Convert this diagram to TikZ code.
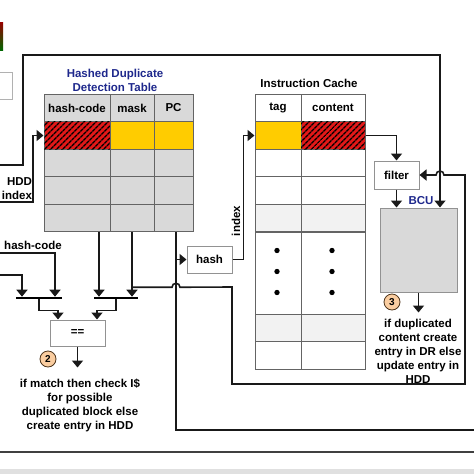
\documentclass[tikz,border=0pt]{standalone}
\usepackage{fontspec}
\setmainfont{Liberation Sans}
\usetikzlibrary{arrows.meta, positioning, calc, patterns.meta}

\definecolor{hddgray}{RGB}{217,217,217}
\definecolor{rowgray}{RGB}{242,242,242}
\definecolor{hitylw}{RGB}{255,204,0}
\definecolor{hitred}{RGB}{226,24,24}
\definecolor{titleblue}{RGB}{30,40,140}
\definecolor{stepfill}{RGB}{250,205,160}
\definecolor{linegray}{RGB}{100,100,100}

\begin{document}
\begin{tikzpicture}[x=1pt,y=-1pt,
	txt/.style={font=\fontsize{11.5}{14}\selectfont\bfseries, inner sep=0pt},
	cell/.style={draw=linegray, line width=1pt, inner sep=0pt, minimum height=27.5pt},
	box/.style={draw=linegray!70, line width=1pt, fill=white, inner sep=0pt, txt},
	wire/.style={line width=1.6pt, draw=black!90},
	arr/.style={wire, -{Triangle[length=7pt,width=11pt]}},
	hatch/.style={fill=hitred, postaction={pattern={Lines[angle=45,distance=4pt,line width=1.4pt]}, pattern color=black}},
	stepnum/.style={circle, draw=black!60!brown, fill=stepfill, line width=0.8pt, minimum size=16pt, inner sep=0pt, font=\fontsize{10}{10}\selectfont\bfseries},
	bar/.style={fill=black, inner sep=0pt, minimum height=2.2pt}]
	\useasboundingbox (0,0) rectangle (474,474);
	% cut-off pieces at the left edge and bottom
	\shade[top color=red!60!black, bottom color=green!40!black] (0,22) rectangle (3,50);
	\draw[linegray!50, fill=white] (-2,72) rectangle (12,99);
	\draw[line width=1.6pt, black!75] (0,452) -- (474,452);
	\fill[black!12] (0,469) rectangle (474,474);

	% hashed duplicate detection table
	\foreach \c/\cx/\w/\lab in {1/77/66/hash-code, 2/132/44/mask, 3/173.5/39/PC} {
		\node[cell, fill=hddgray, minimum width=\w, txt] (hdd-0-\c) at (\cx,108) {\lab};
		\foreach \r in {2,3,4}
			\node[cell, fill=hddgray, minimum width=\w] (hdd-\r-\c) at (\cx,{108+27.5*\r}) {};
	}
	\node[cell, hatch, minimum width=66] (hdd-1-1) at (77,135.5) {};
	\node[cell, fill=hitylw, minimum width=44] (hdd-1-2) at (132,135.5) {};
	\node[cell, fill=hitylw, minimum width=39] (hdd-1-3) at (173.5,135.5) {};
	\node[txt, text=titleblue, align=center] (hdd-title) at (115,80) {Hashed Duplicate\\Detection Table};

	% instruction cache
	\foreach \c/\cx/\w/\lab in {1/278/46/tag, 2/333/64/content} {
		\node[cell, fill=white, minimum width=\w, txt] (ic-0-\c) at (\cx,108) {\lab};
		\foreach \r/\f in {2/white, 3/white, 4/rowgray}
			\node[cell, fill=\f, minimum width=\w] (ic-\r-\c) at (\cx,{108+27.5*\r}) {};
		\node[cell, fill=white, minimum width=\w, minimum height=83] (ic-dots-\c) at (\cx,273.5) {};
		\node[cell, fill=rowgray, minimum width=\w] (ic-6-\c) at (\cx,328.5) {};
		\node[cell, fill=white, minimum width=\w] (ic-7-\c) at (\cx,355.5) {};
		\foreach \dy in {-23,-2,19}
			\fill ($(ic-dots-\c)+(-1,\dy)$) circle (2.7);
	}
	\node[cell, fill=hitylw, minimum width=46] (ic-1-1) at (278,135.5) {};
	\node[cell, hatch, minimum width=64] (ic-1-2) at (333,135.5) {};
	\node[txt] (ic-title) at (309,83) {Instruction Cache};

	% units
	\node[box, minimum width=45, minimum height=27] (hash) at (209.5,259.5) {hash};
	\node[box, minimum width=45, minimum height=28] (filter) at (396.5,175) {filter};
	\node[box, fill=hddgray, minimum width=77, minimum height=84] (bcu) at (418.5,250) {};
	\node[txt, text=titleblue] (bcu-lab) at (421,201) {BCU};
	\node[box, minimum width=55, minimum height=26] (cmp) at (77.5,333) {==};
	\node[bar, minimum width=46] (bar1) at (39,298) {};
	\node[bar, minimum width=44] (bar2) at (116,298) {};

	% steps and notes
	\node[stepnum] (s2) at (48,359) {2};
	\node[stepnum] (s3) at (392,302) {3};
	\node[txt, align=center] (note2) at (80,405) {if match then check I\$\\for possible\\duplicated block else\\create entry in HDD};
	\node[txt, align=center] (note3) at (418,351) {if duplicated\\content create\\entry in DR else\\update entry in\\HDD};
	\node[txt, align=right] (hddidx-lab) at (17,189) {HDD\\index};
	\node[txt] (hc-lab) at (33,245) {hash-code};
	\node[txt, rotate=90] (idx-lab) at (236,221) {index};

	% free ends and taps
	\coordinate (top-in) at (0,165);
	\coordinate (top-turn) at (23,55);
	\coordinate (idx-in) at (0,202);
	\coordinate (hc-in) at (0,253);
	\coordinate (oth-in) at (0,275);
	\coordinate (bot-out) at (474,430);
	\coordinate (pc-tap) at ([xshift=2.5]hdd-4-3.south);
	\coordinate (fb-start) at ($(hdd-4-2.south)+(0,55)$);
	\coordinate (fb-c1) at (232,287);
	\coordinate (fb-c2) at (465,384);
	\coordinate (bcu-in) at ([xshift=21.5]bcu.north);

	% connectors
	\draw[arr] (top-in) -| (top-turn) -| (bcu-in);
	\draw[arr] (idx-in) -- ++(33,0) |- (hdd-1-1.west);
	\draw[arr] (hc-in) -| ([xshift=16]bar1.north);
	\draw[arr] (oth-in) -| ([xshift=-17]bar1.north);
	\draw[arr] ([xshift=22]hdd-4-1.south) -- ([xshift=-17]bar2.north);
	\draw[arr] (hdd-4-2.south) -- ([xshift=16]bar2.north);
	\draw[arr] (bar1.south) -- ++(0,11) -| ([xshift=-19.5]cmp.north);
	\draw[arr] (bar2.south) -- ++(0,11) -| ([xshift=19.5]cmp.north);
	\draw[arr] (cmp.south) -- ++(0,21);
	\draw[wire] (pc-tap) |- (bot-out);
	\draw[arr] (pc-tap |- hash.west) -- (hash.west);
	\draw[arr] (fb-start) -- ($(pc-tap |- fb-start)+(-4,0)$) arc[start angle=180, end angle=360, radius=4]
		-- (fb-c1) |- (fb-c2) -- (fb-c2 |- filter.east)
		-- ($(bcu-in |- filter.east)+(4,0)$) arc[start angle=0, end angle=-180, radius=4] -- (filter.east);
	\draw[arr] (hash.east) -- ++(11,0) |- (ic-1-1.west);
	\draw[arr] (ic-1-2.east) -| (filter.north);
	\draw[arr] (filter.south) -- (filter.south |- bcu.north);
	\draw[arr] (bcu.south) -- ++(0,20);
\end{tikzpicture}
\end{document}
